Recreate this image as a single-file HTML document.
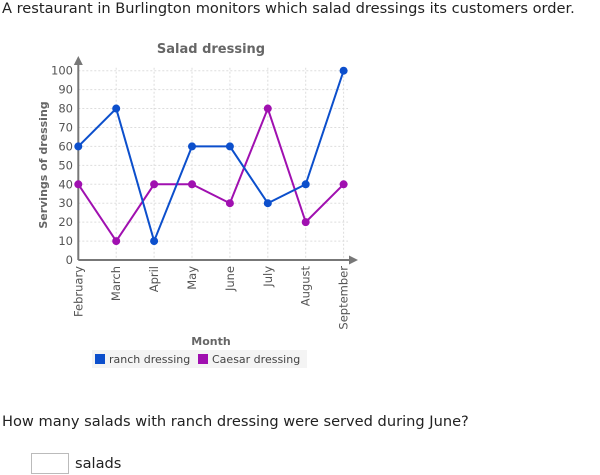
<!DOCTYPE html>
<html><head><meta charset="utf-8">
<style>
body{margin:0;width:600px;height:475px;background:#fff;font-family:"DejaVu Sans","Liberation Sans",sans-serif;position:relative;overflow:hidden}
.q{position:absolute;left:2px;font-size:15px;color:#222;white-space:nowrap}
</style></head><body>
<div class="q" style="top:0px;font-size:14.6px">A restaurant in Burlington monitors which salad dressings its customers order.</div>
<svg width="600" height="380" style="position:absolute;left:0;top:0" font-family="DejaVu Sans, sans-serif">
<g id="grid"></g>
<g id="axes"></g>
<g id="series"></g>
<text x="211" y="53" text-anchor="middle" font-size="13" font-weight="bold" fill="#666">Salad dressing</text>
<text x="211" y="345" text-anchor="middle" font-size="11" font-weight="bold" fill="#666">Month</text>
<text transform="translate(47,165) rotate(-90)" text-anchor="middle" font-size="11" font-weight="bold" fill="#666">Servings of dressing</text>
<g>
<rect x="92" y="350" width="215" height="18" fill="#f4f4f4"/>
<rect x="95" y="354" width="10" height="10" fill="#0c4fcc"/>
<text x="109" y="363" font-size="11" fill="#444">ranch dressing</text>
<rect x="198" y="354" width="10" height="10" fill="#a010b0"/>
<text x="212" y="363" font-size="11" fill="#444">Caesar dressing</text>
</g>
</svg>
<div class="q" style="top:413px;font-size:14.6px">How many salads with ranch dressing were served during June?</div>
<input type="text" style="position:absolute;left:31px;top:453px;width:36px;height:19px;border:1px solid #bbb;padding:0;margin:0">
<div class="q" style="left:75px;top:455px;font-size:14.6px">salads</div>
<script>
const categories=["February","March","April","May","June","July","August","September"];
const ranch=[60,80,10,60,60,30,40,100];
const caesar=[40,10,40,40,30,80,20,40];
const yTicks=[0,10,20,30,40,50,60,70,80,90,100];
const NS="http://www.w3.org/2000/svg";
const x0=78.3,dx=37.9,yb=260,yt=70.7;
const xs=i=>x0+i*dx, ys=v=>yb-(v/100)*(yb-yt);
function mk(p,t,a){const e=document.createElementNS(NS,t);for(const k in a)e.setAttribute(k,a[k]);p.appendChild(e);return e;}
const grid=document.getElementById('grid'),axes=document.getElementById('axes'),ser=document.getElementById('series');
yTicks.forEach(v=>{
 if(v>0){const l=mk(grid,'line',{x1:x0,x2:348,y1:ys(v),y2:ys(v),stroke:'#ddd','stroke-dasharray':'2,2'});
 }
 const t=mk(axes,'text',{x:73,y:ys(v)+4,'text-anchor':'end','font-size':11.5,fill:'#555'});t.textContent=v;
 
});
categories.forEach((c,i)=>{
 if(i>0){const l=mk(grid,'line',{x1:xs(i),x2:xs(i),y1:yt-3,y2:yb,stroke:'#ddd','stroke-dasharray':'2,2'});
 }
 const t=mk(axes,'text',{transform:`translate(${xs(i)+4},266) rotate(-90)`,'text-anchor':'end','font-size':11.5,fill:'#555'});t.textContent=c;
 
});
mk(axes,'line',{x1:x0,y1:yb,x2:352,y2:yb,stroke:'#777','stroke-width':2});
mk(axes,'line',{x1:x0,y1:yb,x2:x0,y2:62,stroke:'#777','stroke-width':2});
mk(axes,'path',{d:'M358 260 L349 255.5 L349 264.5Z',fill:'#777'});
mk(axes,'path',{d:'M78.3 56 L73.8 65 L82.8 65Z',fill:'#777'});
function draw(vals,col,name){
 const pl=mk(ser,'polyline',{points:vals.map((v,i)=>xs(i)+','+ys(v)).join(' '),fill:'none',stroke:col,'stroke-width':2});
 
 vals.forEach((v,i)=>{const c=mk(ser,'circle',{cx:xs(i),cy:ys(v),r:4,fill:col});
 });
}
draw(caesar,'#a010b0','caesar');
draw(ranch,'#0c4fcc','ranch');
</script>
</body></html>
